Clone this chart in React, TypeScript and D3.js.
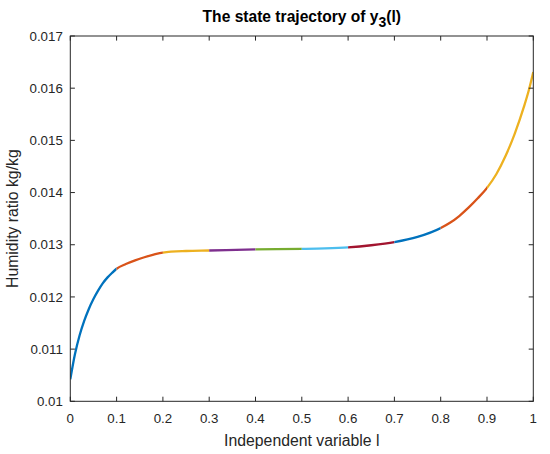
import React from 'react';
import * as d3 from 'd3';

// values
const xValues = [
  0, 0.01, 0.02, 0.03, 0.04, 0.05, 0.06, 0.07, 0.08, 0.09, 0.1,
  0.12, 0.14, 0.16, 0.18, 0.2, 0.25, 0.3, 0.4, 0.5, 0.55, 0.6, 0.65, 0.7,
  0.75, 0.8, 0.82, 0.84, 0.86, 0.88, 0.9, 0.92, 0.94, 0.96, 0.98, 0.99, 1,
];
const yValues = [
  0.01042, 0.0109, 0.01126, 0.01154, 0.01177, 0.01196, 0.01212, 0.01226, 0.01237, 0.01246, 0.01254,
  0.01263, 0.0127, 0.01276, 0.01281, 0.01285, 0.01288, 0.01289, 0.01291, 0.01292, 0.01293, 0.01295, 0.01299, 0.01305,
  0.01315, 0.01332, 0.01342, 0.01355, 0.01371, 0.01389, 0.01409, 0.01435, 0.0147, 0.01513, 0.01565, 0.01595, 0.01631,
];
// one colour per 0.1 wide piece, MATLAB default order
const segmentStarts = [0, 0.1, 0.2, 0.3, 0.4, 0.5, 0.6, 0.7, 0.8, 0.9];
const segmentColors = [
  '#0072BD', '#D95319', '#EDB120', '#7E2F8E', '#77AC30',
  '#4DBEEE', '#A2142F', '#0072BD', '#D95319', '#EDB120',
];

const xTicks = [0, 0.1, 0.2, 0.3, 0.4, 0.5, 0.6, 0.7, 0.8, 0.9, 1];
const xTickLabels = ['0', '0.1', '0.2', '0.3', '0.4', '0.5', '0.6', '0.7', '0.8', '0.9', '1'];
const yTicks = [0.01, 0.011, 0.012, 0.013, 0.014, 0.015, 0.016, 0.017];
const yTickLabels = ['0.01', '0.011', '0.012', '0.013', '0.014', '0.015', '0.016', '0.017'];

const width = 550;
const height = 454;
const margin = { top: 36, right: 16.7, bottom: 52.7, left: 70.3 };
const axisColor = '#262626';
const font = 'Arial, "Liberation Sans", Helvetica, sans-serif';

const App = () => {
  const innerW = width - margin.left - margin.right;
  const innerH = height - margin.top - margin.bottom;

  const xScale = d3.scaleLinear().domain([0, 1]).range([0, innerW]);
  const yScale = d3.scaleLinear().domain([0.01, 0.017]).range([innerH, 0]);

  const points: [number, number][] = xValues.map((x, i) => [x, yValues[i]]);
  const line = d3.line<[number, number]>()
    .x(d => xScale(d[0]))
    .y(d => yScale(d[1]))
    .curve(d3.curveMonotoneX);
  const pathD = line(points) || '';

  const tickLen = 4.6;

  return (
    <svg width={width} height={height} style={{ position: 'absolute', left: 0, top: 0, background: '#fff' }}>
      <defs>
        {segmentStarts.map((s, i) => (
          <clipPath id={`seg${i}`} key={i}>
            <rect x={xScale(s)} y={-20} width={xScale(s + 0.1) - xScale(s)} height={innerH + 40} />
          </clipPath>
        ))}
      </defs>
      <text x={margin.left + innerW / 2} y={21.8} textAnchor="middle" fontFamily={font} fontWeight="bold" fontSize={15.6} fill="#000">
        The state trajectory of y<tspan dy={5.5} fontSize={14}>3</tspan><tspan dy={-5.5}>(l)</tspan>
      </text>
      <g transform={`translate(${margin.left},${margin.top})`}>
        {/* curve pieces */}
        {segmentStarts.map((s, i) => (
          <path key={i} d={pathD} fill="none" stroke={segmentColors[i]} strokeWidth={2.3} clipPath={`url(#seg${i})`} />
        ))}

        {/* box */}
        <rect x={0} y={0} width={innerW} height={innerH} fill="none" stroke={axisColor} strokeWidth={1} />

        {/* x ticks */}
        {xTicks.map((t, i) => (
          <g key={i} transform={`translate(${xScale(t)},0)`}>
            <line y1={innerH} y2={innerH - tickLen} stroke={axisColor} />
            <line y1={0} y2={tickLen} stroke={axisColor} />
            <text y={innerH + 22} textAnchor="middle" fontFamily={font} fontSize={13.3} fill={axisColor}>
              {xTickLabels[i]}
            </text>
          </g>
        ))}

        {/* y ticks */}
        {yTicks.map((t, i) => (
          <g key={i} transform={`translate(0,${yScale(t)})`}>
            <line x1={0} x2={tickLen} stroke={axisColor} />
            <line x1={innerW} x2={innerW - tickLen} stroke={axisColor} />
            <text x={-7.5} dy="0.35em" textAnchor="end" fontFamily={font} fontSize={13.3} fill={axisColor}>
              {yTickLabels[i]}
            </text>
          </g>
        ))}

        <text x={innerW / 2} y={innerH + 44.5} textAnchor="middle" fontFamily={font} fontSize={15.8} fill={axisColor}>
          Independent variable l
        </text>
        <text transform={`translate(${-52},${innerH / 2}) rotate(-90)`} textAnchor="middle" fontFamily={font} fontSize={15.8} fill={axisColor}>
          Humidity ratio kg/kg
        </text>
      </g>
    </svg>
  );
};

export default App;
